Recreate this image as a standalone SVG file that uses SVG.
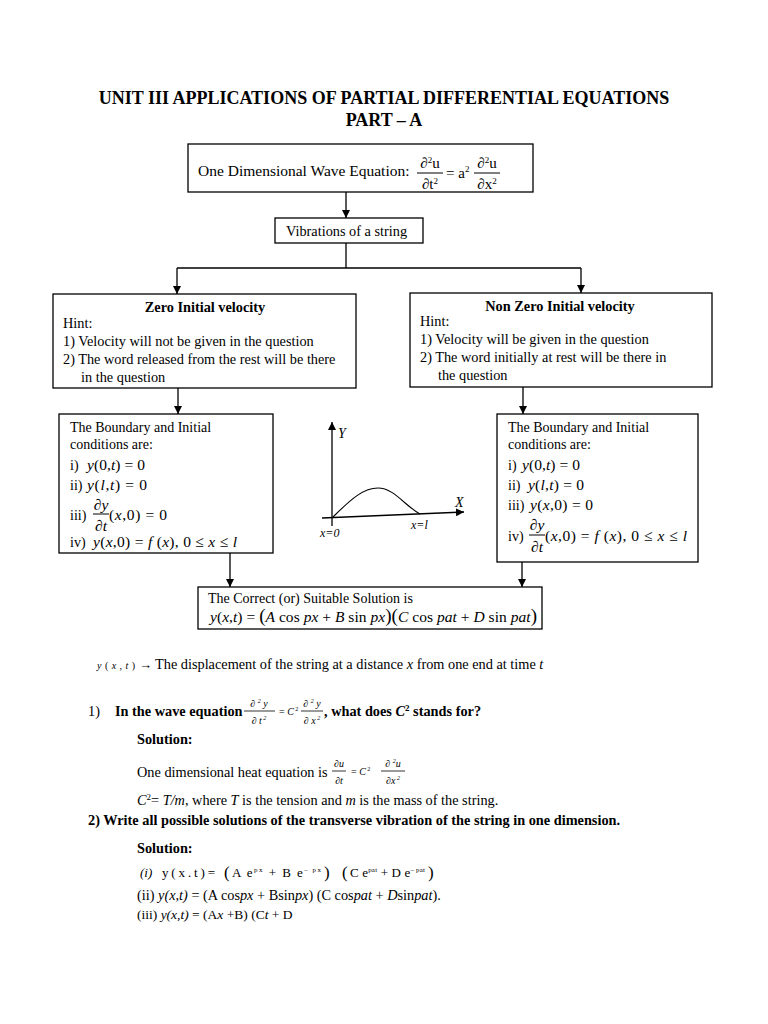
<svg xmlns="http://www.w3.org/2000/svg" width="768" height="1024" viewBox="0 0 768 1024">
<defs>
<marker id="arr" viewBox="0 0 10 10" refX="10" refY="5" markerWidth="8" markerHeight="8" markerUnits="userSpaceOnUse" orient="auto">
<path d="M0,0 L10,5 L0,10 z" fill="#000"/>
</marker>
<style>
text{font-family:"Liberation Serif","Times New Roman",serif;fill:#000;font-size:14.3px}
.b{font-weight:bold}
.i{font-style:italic}
.box{fill:#fff;stroke:#000;stroke-width:1.3}
.ln{stroke:#000;stroke-width:1.3;fill:none}
.con{stroke:#000;stroke-width:1.3;fill:none;marker-end:url(#arr)}
.m{font-size:15.5px}
.t{font-size:14px}
.s{font-size:9px}
.q{font-size:10px}
.qs{font-size:6px}
.sp{font-size:7px}
</style>
</defs>
<rect width="768" height="1024" fill="#fff"/>

<g id="title">
<text x="384" y="104" text-anchor="middle" class="b" style="font-size:18px">UNIT III APPLICATIONS OF PARTIAL DIFFERENTIAL EQUATIONS</text>
<text x="384" y="126" text-anchor="middle" class="b" style="font-size:18px">PART – A</text>
</g>

<g id="connectors">
<line class="con" x1="346" y1="192" x2="346" y2="218"/>
<line class="ln" x1="346" y1="243" x2="346" y2="268"/>
<line class="ln" x1="177" y1="268" x2="581" y2="268"/>
<line class="con" x1="177" y1="268" x2="177" y2="294"/>
<line class="con" x1="581" y1="268" x2="581" y2="293"/>
<line class="con" x1="178" y1="388" x2="178" y2="414"/>
<line class="con" x1="523" y1="387" x2="523" y2="414"/>
<line class="con" x1="230" y1="553" x2="230" y2="587"/>
<line class="con" x1="522" y1="562" x2="522" y2="587"/>
</g>

<g id="wave-equation">
<rect class="box" x="188" y="144" width="345" height="48"/>
<text x="198" y="176" style="font-size:15.5px">One Dimensional Wave Equation:</text>
<text x="430" y="168" text-anchor="middle" style="font-size:15px">∂<tspan class="s" dy="-5">2</tspan><tspan dy="5">u</tspan></text>
<line class="ln" x1="417" y1="173" x2="443" y2="173" style="stroke-width:1"/>
<text x="430" y="189" text-anchor="middle" style="font-size:15px">∂t<tspan class="s" dy="-5">2</tspan></text>
<text x="446" y="178" style="font-size:15px">= a<tspan class="s" dy="-6">2</tspan></text>
<text x="487" y="168" text-anchor="middle" style="font-size:15px">∂<tspan class="s" dy="-5">2</tspan><tspan dy="5">u</tspan></text>
<line class="ln" x1="474" y1="173" x2="500" y2="173" style="stroke-width:1"/>
<text x="487" y="189" text-anchor="middle" style="font-size:15px">∂x<tspan class="s" dy="-5">2</tspan></text>
</g>

<g id="vibrations">
<rect class="box" x="275" y="218" width="148" height="25"/>
<text x="286" y="236">Vibrations of a string</text>
</g>

<g id="zero-initial">
<rect class="box" x="53" y="294" width="303" height="94"/>
<text x="205" y="312" text-anchor="middle" class="b">Zero Initial velocity</text>
<text x="63" y="328">Hint:</text>
<text x="63" y="346">1)  Velocity will not be given in the question</text>
<text x="63" y="364">2) The word released from the rest will be there</text>
<text x="81" y="382">in the question</text>
</g>

<g id="nonzero-initial">
<rect class="box" x="410" y="293" width="302" height="94"/>
<text x="560" y="311" text-anchor="middle" class="b">Non Zero Initial velocity</text>
<text x="420" y="326">Hint:</text>
<text x="420" y="344">1)  Velocity will  be given in the question</text>
<text x="420" y="362">2) The word initially at rest will be there in</text>
<text x="438" y="380">the question</text>
</g>

<g id="conditions-left">
<rect class="box" x="59" y="414" width="214" height="139"/>
<text x="70" y="432" class="t">The Boundary and Initial</text>
<text x="70" y="449" class="t">conditions are:</text>
<text x="70" y="470" class="t">i)</text>
<text x="87" y="470" class="m" textLength="58" lengthAdjust="spacing"><tspan class="i">y</tspan>(0,<tspan class="i">t</tspan>) = 0</text>
<text x="70" y="490" class="t">ii)</text>
<text x="87" y="490" class="m" textLength="60" lengthAdjust="spacing"><tspan class="i">y</tspan>(<tspan class="i">l</tspan>,<tspan class="i">t</tspan>) = 0</text>
<text x="70" y="520" class="t">iii)</text>
<text x="101" y="510" text-anchor="middle" class="i m">∂y</text>
<line class="ln" x1="93" y1="514" x2="109" y2="514" style="stroke-width:1"/>
<text x="101" y="531" text-anchor="middle" class="i m">∂t</text>
<text x="109" y="520" class="m" textLength="58" lengthAdjust="spacing">(<tspan class="i">x</tspan>,0) = 0</text>
<text x="70" y="547" class="t">iv)</text>
<text x="93" y="547" class="m" textLength="144" lengthAdjust="spacing"><tspan class="i">y</tspan>(<tspan class="i">x</tspan>,0) = <tspan class="i">f</tspan> (<tspan class="i">x</tspan>), 0 ≤ <tspan class="i">x</tspan> ≤ <tspan class="i">l</tspan></text>
</g>

<g id="graph">
<line class="con" x1="332" y1="526" x2="332" y2="422"/>
<line class="con" x1="322" y1="518" x2="464" y2="512"/>
<path class="ln" d="M333,517 C352,498 364,488 378,488 C394,488 405,506 420,514" style="stroke-width:1.1"/>
<text x="338" y="438" class="i" style="font-size:14px">Y</text>
<text x="455" y="507" class="i" style="font-size:14px">X</text>
<text x="320" y="537" class="i" style="font-size:12px">x=0</text>
<text x="411" y="529" class="i" style="font-size:12px">x=l</text>
</g>

<g id="conditions-right">
<rect class="box" x="497" y="414" width="201" height="148"/>
<text x="508" y="432" class="t">The Boundary and Initial</text>
<text x="508" y="449" class="t">conditions are:</text>
<text x="508" y="470" class="t">i)</text>
<text x="522" y="470" class="m" textLength="58" lengthAdjust="spacing"><tspan class="i">y</tspan>(0,<tspan class="i">t</tspan>) = 0</text>
<text x="508" y="490" class="t">ii)</text>
<text x="528" y="490" class="m" textLength="56" lengthAdjust="spacing"><tspan class="i">y</tspan>(<tspan class="i">l</tspan>,<tspan class="i">t</tspan>) = 0</text>
<text x="508" y="510" class="t">iii)</text>
<text x="530" y="510" class="m" textLength="63" lengthAdjust="spacing"><tspan class="i">y</tspan>(<tspan class="i">x</tspan>,0) = 0</text>
<text x="508" y="541" class="t">iv)</text>
<text x="537" y="530" text-anchor="middle" class="i m">∂y</text>
<line class="ln" x1="529" y1="535" x2="545" y2="535" style="stroke-width:1"/>
<text x="537" y="552" text-anchor="middle" class="i m">∂t</text>
<text x="545" y="541" class="m" textLength="142" lengthAdjust="spacing">(<tspan class="i">x</tspan>,0) = <tspan class="i">f</tspan> (<tspan class="i">x</tspan>), 0 ≤ <tspan class="i">x</tspan> ≤ <tspan class="i">l</tspan></text>
</g>

<g id="solution">
<rect class="box" x="198" y="587" width="344" height="42"/>
<text x="208" y="603" class="t">The Correct (or) Suitable Solution is</text>
<text x="210" y="622" style="font-size:15.5px" textLength="327" lengthAdjust="spacing"><tspan class="i">y</tspan>(<tspan class="i">x</tspan>,<tspan class="i">t</tspan>) = <tspan style="font-size:19px">(</tspan><tspan class="i">A</tspan> cos <tspan class="i">px</tspan> + <tspan class="i">B</tspan> sin <tspan class="i">px</tspan><tspan style="font-size:19px">)(</tspan><tspan class="i">C</tspan> cos <tspan class="i">pat</tspan> + <tspan class="i">D</tspan> sin <tspan class="i">pat</tspan><tspan style="font-size:19px">)</tspan></text>
</g>

<g id="notes">
<text x="97" y="669" style="font-size:10px" textLength="38" lengthAdjust="spacing"><tspan class="i">y</tspan> ( <tspan class="i">x</tspan> , <tspan class="i">t</tspan> )</text>
<text x="139" y="669" style="font-size:13px">→</text>
<text x="155" y="669">The displacement of the string at a distance <tspan class="i">x</tspan> from one end at time <tspan class="i">t</tspan></text>

<text x="88" y="716">1)</text>
<text x="115" y="716" class="b">In the wave equation</text>
<text x="259" y="707" text-anchor="middle" class="i q">∂ <tspan class="qs" dy="-4">2</tspan><tspan dy="4"> y</tspan></text>
<line class="ln" x1="244" y1="711" x2="275" y2="711" style="stroke-width:0.8"/>
<text x="259" y="724" text-anchor="middle" class="i q">∂ t<tspan class="qs" dy="-4"> 2</tspan></text>
<text x="279" y="715" class="q">= <tspan class="i">C</tspan><tspan class="qs" dy="-4"> 2</tspan></text>
<text x="312" y="707" text-anchor="middle" class="i q">∂ <tspan class="qs" dy="-4">2</tspan><tspan dy="4"> y</tspan></text>
<line class="ln" x1="301" y1="711" x2="323" y2="711" style="stroke-width:0.8"/>
<text x="312" y="724" text-anchor="middle" class="i q">∂ x<tspan class="qs" dy="-4"> 2</tspan></text>
<text x="324" y="716" class="b">, what does <tspan class="i">C</tspan><tspan style="font-size:9px" dy="-5">2</tspan><tspan dy="5"> stands for?</tspan></text>

<text x="137" y="744" class="b">Solution:</text>
<text x="137" y="777">One dimensional heat equation is</text>
<text x="339" y="767" text-anchor="middle" class="i q">∂u</text>
<line class="ln" x1="332" y1="771" x2="346" y2="771" style="stroke-width:0.8"/>
<text x="339" y="784" text-anchor="middle" class="i q">∂t</text>
<text x="351" y="775" class="q">= <tspan class="i">C</tspan><tspan class="qs" dy="-4"> 2</tspan></text>
<text x="393" y="767" text-anchor="middle" class="i q">∂ <tspan class="qs" dy="-4">2</tspan><tspan dy="4">u</tspan></text>
<line class="ln" x1="381" y1="771" x2="405" y2="771" style="stroke-width:0.8"/>
<text x="393" y="784" text-anchor="middle" class="i q">∂x<tspan class="qs" dy="-4"> 2</tspan></text>
<text x="137" y="805"><tspan class="i">C</tspan><tspan style="font-size:9px" dy="-5">2</tspan><tspan dy="5">= </tspan><tspan class="i">T/m</tspan>, where <tspan class="i">T</tspan> is the tension and <tspan class="i">m</tspan> is the mass of the string.</text>
<text x="88" y="825" class="b">2) Write all possible solutions of the transverse vibration of the string in one dimension.</text>

<text x="137" y="853" class="b">Solution:</text>
<text x="140" y="877" class="i" style="font-size:13px">(i)</text>
<text x="162" y="877" style="font-size:13px" textLength="53" lengthAdjust="spacing">y ( x  . t ) =</text>
<text x="224" y="878" style="font-size:17px">(</text>
<text x="232" y="877" style="font-size:13px" textLength="89" lengthAdjust="spacing">A e<tspan class="sp" dy="-5">px</tspan><tspan dy="5"> + B e</tspan><tspan class="sp" dy="-5">– px</tspan></text>
<text x="324" y="878" style="font-size:17px">)</text>
<text x="342" y="878" style="font-size:17px">(</text>
<text x="350" y="877" style="font-size:13px" textLength="75" lengthAdjust="spacing">C e<tspan class="sp" dy="-5">pat</tspan><tspan dy="5"> + D e</tspan><tspan class="sp" dy="-5">– pat</tspan></text>
<text x="428" y="878" style="font-size:17px">)</text>
<text x="137" y="900">(ii) <tspan class="i">y(x,t)</tspan> = (A cos<tspan class="i">px</tspan> + Bsin<tspan class="i">px</tspan>) (C cos<tspan class="i">pat</tspan> + <tspan class="i">D</tspan>sin<tspan class="i">pat</tspan>).</text>
<text x="137" y="919" style="font-size:13.5px">(iii) <tspan class="i">y(x,t)</tspan> = (A<tspan class="i">x</tspan> +B) (C<tspan class="i">t</tspan> + D</text>
</g>
</svg>
